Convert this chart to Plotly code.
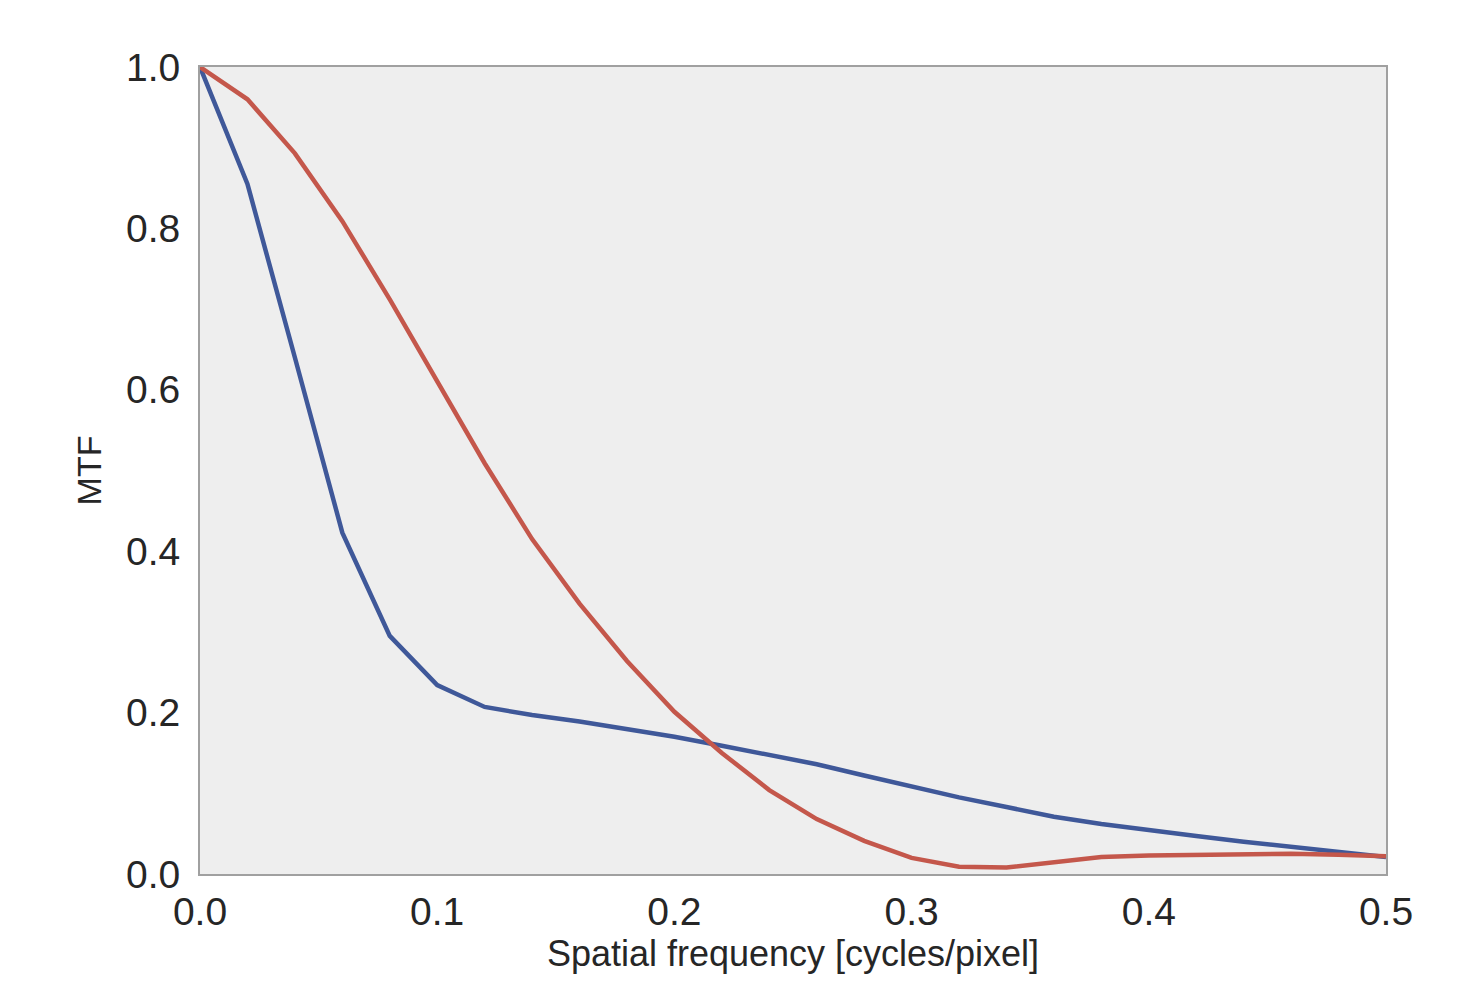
import plotly.graph_objects as go

# spatial frequency samples [cycles/pixel]
freq = [0.00, 0.02, 0.04, 0.06, 0.08, 0.10, 0.12, 0.14, 0.16, 0.18, 0.20, 0.22, 0.24,
        0.26, 0.28, 0.30, 0.32, 0.34, 0.36, 0.38, 0.40, 0.42, 0.44, 0.46, 0.48, 0.50]

mtf_blue = [1.000, 0.855, 0.640, 0.423, 0.295, 0.234, 0.207, 0.197, 0.189, 0.180, 0.170, 0.159,
            0.148, 0.136, 0.122, 0.108, 0.095, 0.083, 0.071, 0.062, 0.054, 0.047, 0.040,
            0.034, 0.027, 0.021]

mtf_red = [1.000, 0.960, 0.893, 0.809, 0.712, 0.611, 0.509, 0.415, 0.335, 0.264, 0.201, 0.150,
           0.104, 0.068, 0.041, 0.020, 0.009, 0.008, 0.014, 0.021, 0.023, 0.024, 0.025,
           0.025, 0.024, 0.022]

x_ticks = [0.0, 0.1, 0.2, 0.3, 0.4, 0.5]
y_ticks = [0.0, 0.2, 0.4, 0.6, 0.8, 1.0]

fig = go.Figure()
fig.add_trace(go.Scatter(x=freq, y=mtf_blue, mode="lines",
                         line=dict(color="#3f5899", width=4.5)))
fig.add_trace(go.Scatter(x=freq, y=mtf_red, mode="lines",
                         line=dict(color="#c4574b", width=4.5)))

fig.update_layout(
    width=1474, height=993,
    margin=dict(l=192, r=96, t=59, b=127),
    paper_bgcolor="white",
    plot_bgcolor="#eeeeee",
    showlegend=False,
    font=dict(family="Liberation Sans, Arial, sans-serif", color="#262626"),
)
fig.update_xaxes(
    range=[0, 0.5], tickvals=x_ticks, ticktext=["%.1f" % v for v in x_ticks],
    showgrid=False, zeroline=False, showline=True, mirror=True,
    linecolor="#a0a0a0", linewidth=2, ticks="", tickfont=dict(size=39),
    ticklabelstandoff=2,
    title=dict(text="Spatial frequency [cycles/pixel]", font=dict(size=36), standoff=4),
)
fig.update_yaxes(
    range=[0, 1.0], tickvals=y_ticks, ticktext=["%.1f" % v for v in y_ticks],
    showgrid=False, zeroline=False, showline=True, mirror=True,
    linecolor="#a0a0a0", linewidth=2, ticks="", tickfont=dict(size=39),
    ticklabelstandoff=10,
    title=dict(text="MTF", font=dict(size=34), standoff=14),
)

fig.write_html("out.html")
